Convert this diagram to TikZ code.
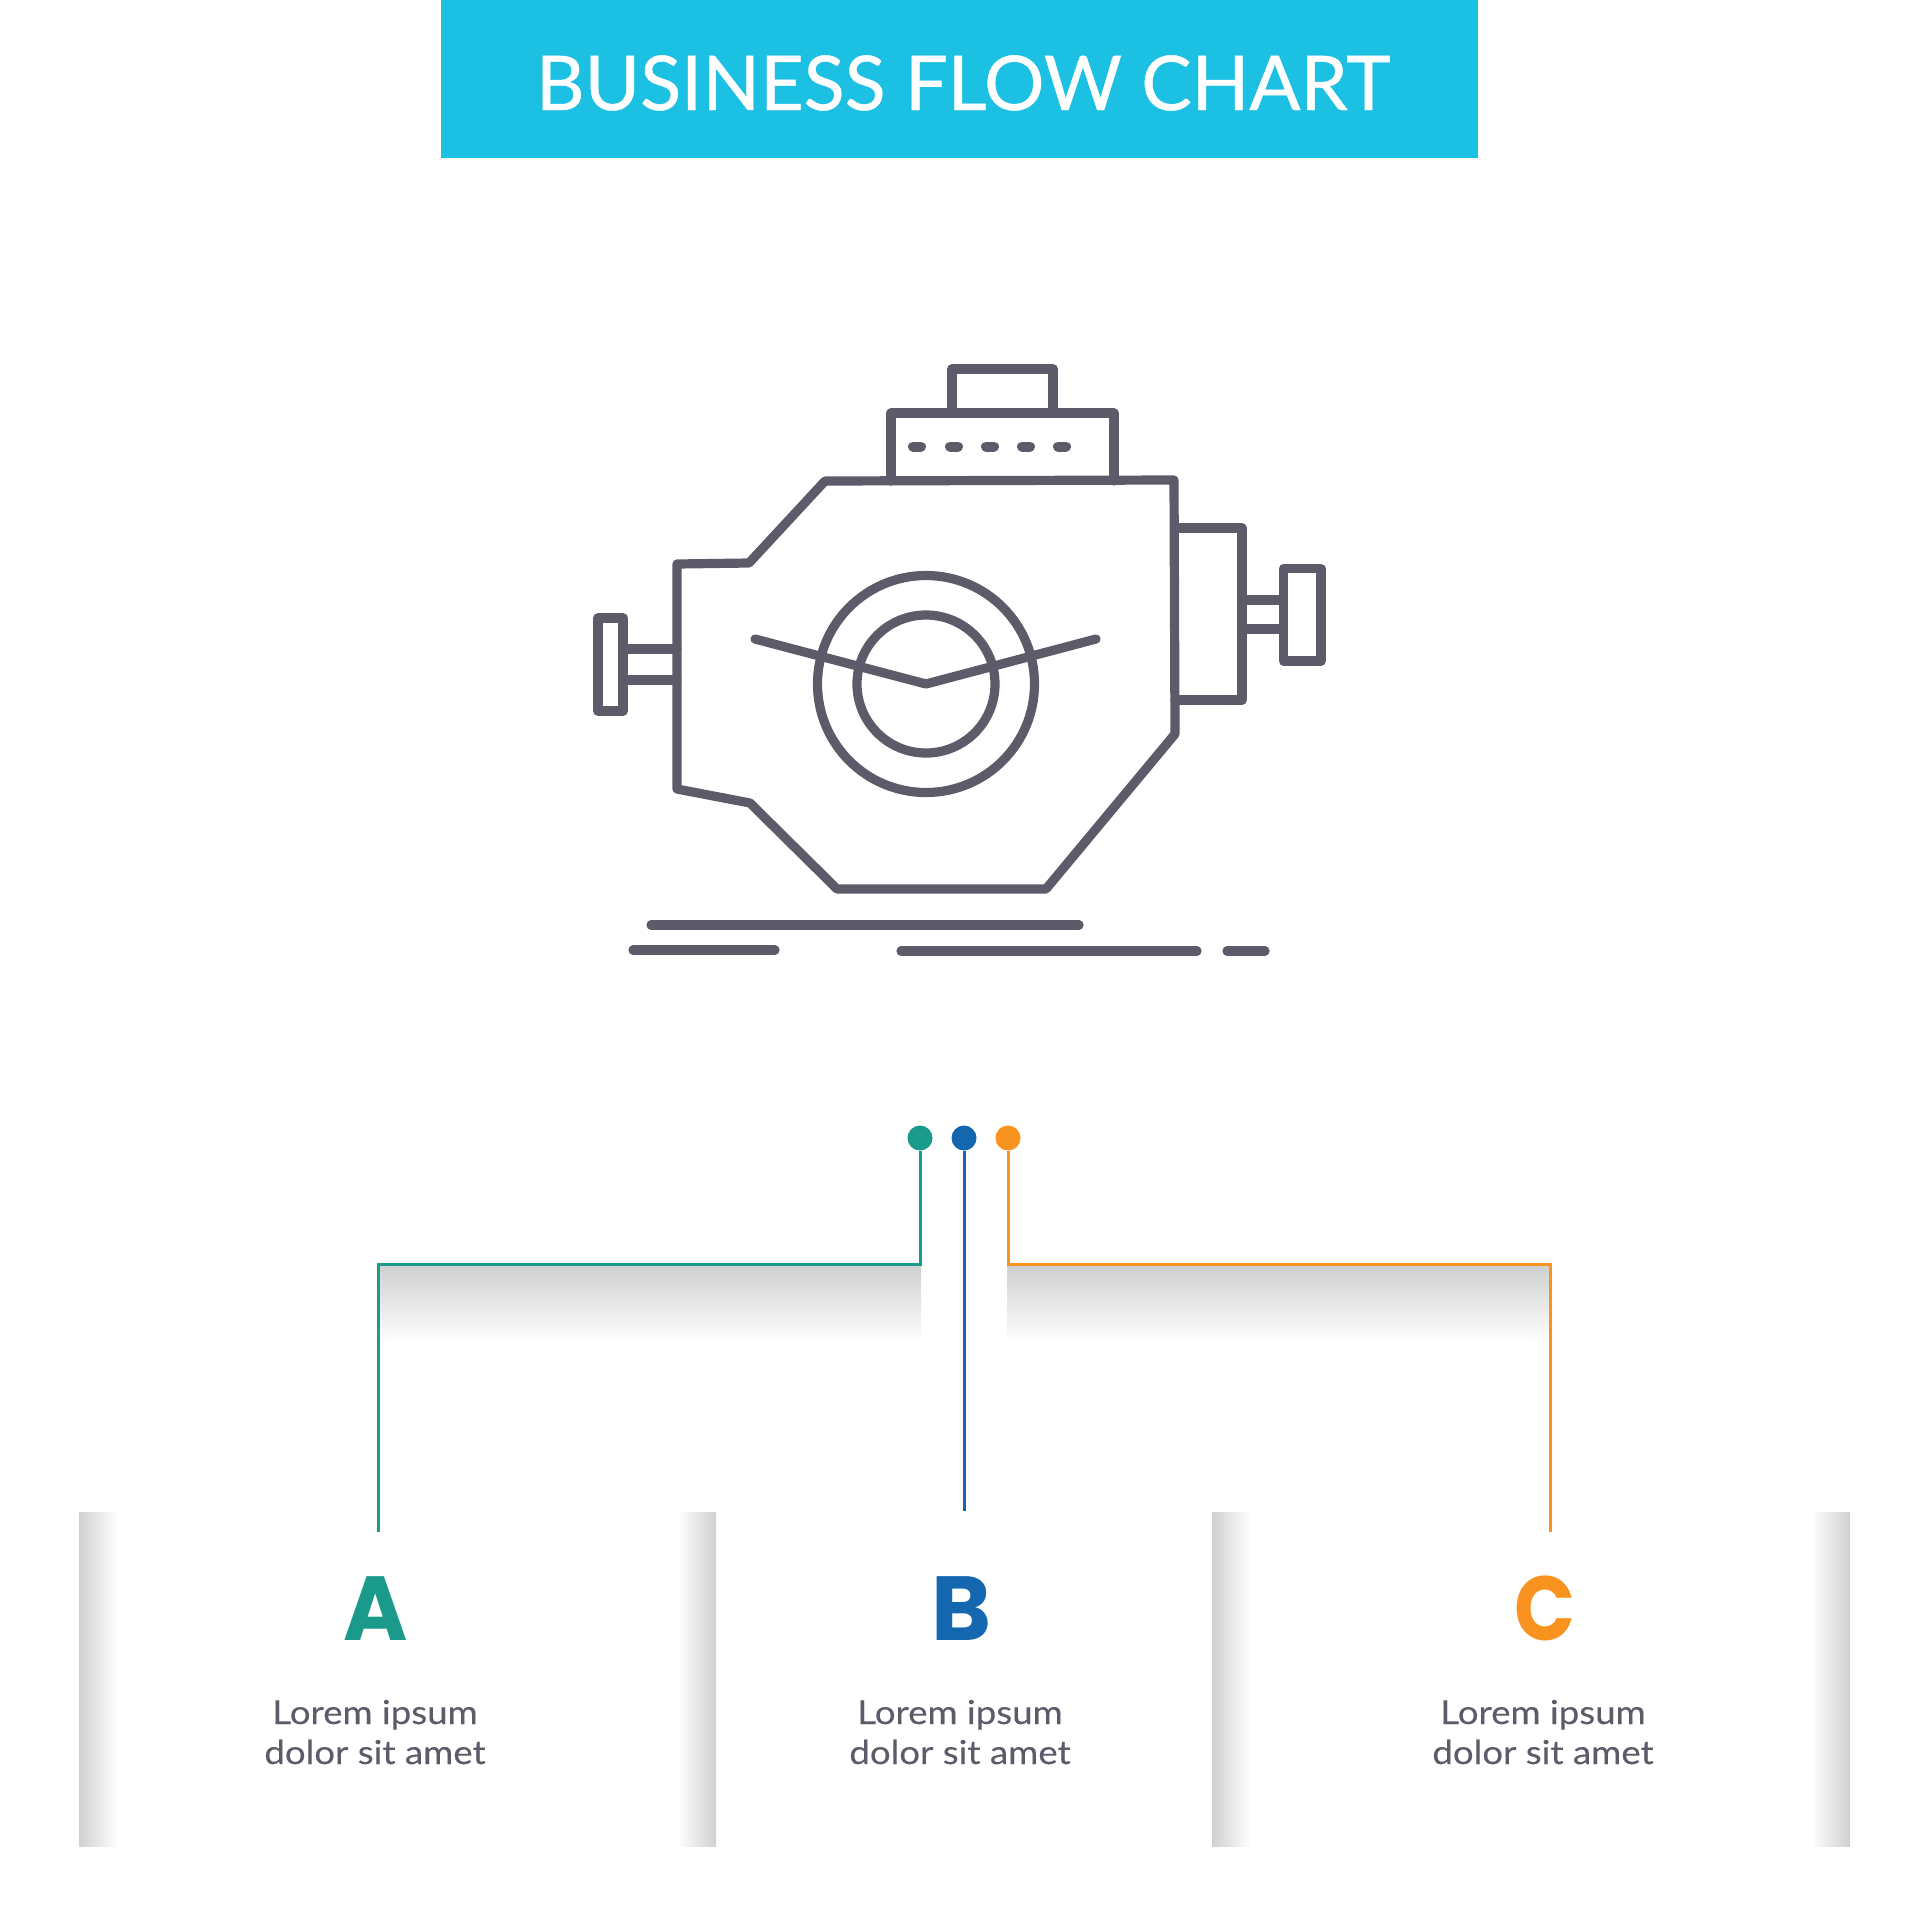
\documentclass[tikz,border=0pt]{standalone}
\usepackage{fontspec}
\setmainfont{Lato}
\newfontfamily\titlefont{Lato}[FakeBold=0.6]
\newfontfamily\bodyfont{Lato}[FakeStretch=1.11,FakeBold=0.2]
\newfontfamily\letterfont{Poppins}
\definecolor{ink}{HTML}{5D5B6A}
\definecolor{sky}{HTML}{1CC0E2}
\definecolor{teal}{HTML}{1A9A8A}
\definecolor{navy}{HTML}{1467AF}
\definecolor{amber}{HTML}{F7931E}
\definecolor{fade}{HTML}{CFD0D0}
\tikzset{
  engine/.style={draw=ink,line width=9.2pt,line join=round,line cap=round},
  dotnode/.style={circle,inner sep=0pt,minimum size=25pt},
  letter/.style={anchor=base,font=\letterfont\bfseries\fontsize{91}{91}\selectfont},
  lorem/.style={anchor=base,text=ink,font=\bodyfont\fontsize{33}{33}\selectfont},
}
\begin{document}
\begin{tikzpicture}[x=1pt,y=-1pt]
\useasboundingbox (0,0) rectangle (1920,1920);

\fill[sky] (441,0) rectangle (1478,158);
\node[anchor=base,text=white,font=\titlefont\fontsize{75.5}{76}\selectfont] (title) at (963,110) {BUSINESS FLOW CHART};

% engine
\draw[engine] (952,413)--(952,369)--(1053,369)--(1053,413);
\draw[engine] (891,481)--(891,413)--(1114,413)--(1114,481);
\foreach \dotx in {917,954,990,1026,1062}
  \draw[engine,line width=10pt] (\dotx-4,446.5)--(\dotx+4,446.5);
\draw[engine] (825,481)--(1174,480)--(1175,734)--(1046,889)--(837,889)--(750,803)--(677,789)--(677,564)--(749,563)--cycle;
\draw[engine] (1175,528)--(1242,528)--(1242,700)--(1175,700);
\draw[engine] (1283.5,568.5) rectangle (1321,661);
\draw[engine] (1242,600)--(1283.5,600) (1242,629)--(1283.5,629);
\draw[engine] (598,618) rectangle (623,711);
\draw[engine] (623,649)--(677,649) (623,680)--(677,680);
\draw[engine] (926,684) circle (108.5);
\draw[engine] (926,684) circle (69);
\draw[engine] (755,639)--(926,684)--(1096,639);
\draw[engine] (651,925)--(1079,925);
\draw[engine] (633,950)--(775,950);
\draw[engine] (901,951)--(1197,951);
\draw[engine] (1227,951)--(1265,951);

% shadows
\shade[top color=fade,bottom color=white] (378,1266) rectangle (921,1343);
\shade[top color=fade,bottom color=white] (1007,1266) rectangle (1550,1343);
\shade[left color=fade,right color=white] (79,1512) rectangle (118,1846);
\shade[left color=white,right color=fade] (677,1512) rectangle (716,1846);
\shade[left color=fade,right color=white] (1212,1512) rectangle (1251,1846);
\shade[left color=white,right color=fade] (1811,1512) rectangle (1850,1846);

% connectors
\node[dotnode,fill=teal] (dotA) at (920,1138) {};
\node[dotnode,fill=navy] (dotB) at (964,1138) {};
\node[dotnode,fill=amber] (dotC) at (1008,1138) {};
\coordinate (cornerA) at (378,1264);
\coordinate (endA) at (378,1532);
\coordinate (endB) at (964,1511);
\coordinate (cornerC) at (1550,1264);
\coordinate (endC) at (1550,1532);
\draw[teal,line width=3pt] (dotA.south)|-(cornerA)--(endA);
\draw[navy,line width=3pt] (dotB)--(endB);
\draw[amber,line width=3pt] (dotC.south)|-(cornerC)--(endC);

% labels
\node[letter,text=teal,xscale=.96] (letterA) at (376,1640) {A};
\node[letter,text=navy] (letterB) at (961,1640) {B};
\node[letter,text=amber,xscale=.88] (letterC) at (1545,1640) {C};
\node[lorem] (loremA) at (375,1724) {Lorem ipsum};
\node[lorem] (dolorA) at (375,1764) {dolor sit amet};
\node[lorem] (loremB) at (960,1724) {Lorem ipsum};
\node[lorem] (dolorB) at (960,1764) {dolor sit amet};
\node[lorem] (loremC) at (1543,1724) {Lorem ipsum};
\node[lorem] (dolorC) at (1543,1764) {dolor sit amet};
\end{tikzpicture}
\end{document}
